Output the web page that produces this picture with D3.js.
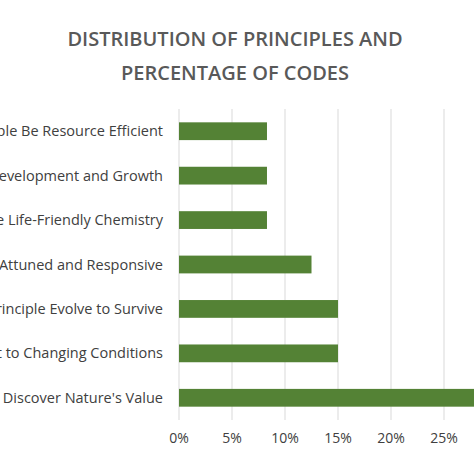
<!DOCTYPE html>
<html><head><meta charset="utf-8">
<script src="https://cdn.jsdelivr.net/npm/d3@7"></script>
<style>body{margin:0;background:#fff;}svg{display:block;font-family:"Open Sans","Liberation Sans",sans-serif;}</style>
</head><body><svg width="474" height="474"></svg>
<script>
const categories = ["Principle Be Resource Efficient","Principle Integrate Development and Growth","Principle Use Life-Friendly Chemistry","Principle Locally Attuned and Responsive","Principle Evolve to Survive","Principle Adapt to Changing Conditions","Discover Nature's Value"];
const values = [0.083,0.083,0.083,0.125,0.15,0.15,0.29];
const ticks = [0,0.05,0.10,0.15,0.20,0.25];
const titleLines = ["DISTRIBUTION OF PRINCIPLES AND","PERCENTAGE OF CODES"];

const svg = d3.select("svg");
const x = d3.scaleLinear().domain([0,0.25]).range([179,444]);
const y = d3.scaleBand().domain(categories).range([109,420]).paddingInner(0.6).paddingOuter(0.3);

svg.selectAll(".title").data(titleLines).enter().append("text")
  .attr("x",235).attr("y",(d,i)=>46+i*34).attr("text-anchor","middle")
  .attr("font-size",20).attr("font-weight",600).attr("fill","#595959").text(d=>d);

svg.append("g").selectAll("line").data(ticks).enter().append("line")
  .attr("x1",d=>x(d)).attr("x2",d=>x(d)).attr("y1",109).attr("y2",420)
  .attr("stroke","#d9d9d9").attr("stroke-width",1);

svg.append("g").selectAll("rect").data(values).enter().append("rect")
  .attr("x",x(0)).attr("y",(d,i)=>y(categories[i]))
  .attr("width",d=>x(d)-x(0)).attr("height",y.bandwidth())
  .attr("fill","#548235");

svg.append("g").selectAll("text").data(categories).enter().append("text")
  .attr("x",163).attr("y",d=>y(d)+y.bandwidth()/2).attr("dy","0.35em")
  .attr("text-anchor","end").attr("font-size",14.5).attr("fill","#404040").text(d=>d);

svg.append("g").selectAll("text").data(ticks).enter().append("text")
  .attr("x",d=>x(d)).attr("y",443).attr("text-anchor","middle")
  .attr("font-size",14).attr("fill","#404040").text(d=>d3.format(".0%")(d));
</script></body></html>
